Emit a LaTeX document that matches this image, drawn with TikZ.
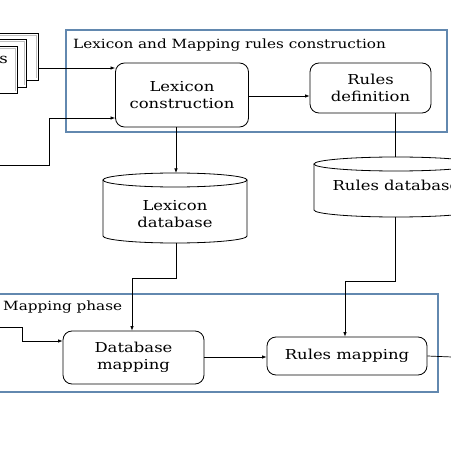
\documentclass[tikz,border=0pt]{standalone}
\usepackage{fontspec}
\setmainfont[FakeStretch=1.2]{DejaVu Serif}
\usetikzlibrary{arrows.meta}
\definecolor{frameblue}{RGB}{98,136,175}
\begin{document}
\begin{tikzpicture}[x=1pt,y=1pt,
  proc/.style={draw=black, line width=0.8pt, rounded corners=9pt, align=center,
     inner sep=0pt, font=\fontsize{13.7}{17}\selectfont},
  dbtext/.style={align=center, inner sep=0pt, font=\fontsize{13.7}{17}\selectfont},
  phase/.style={draw=frameblue, line width=1.8pt},
  ttl/.style={anchor=west, inner sep=0pt, font=\fontsize{12.7}{14}\selectfont},
  conn/.style={draw=black, line width=0.7pt},
  arr/.style={conn, -{Latex[length=4.5pt,width=3.5pt]}},
  doc/.style={draw=black, line width=0.8pt, fill=white}]
\useasboundingbox (0,0) rectangle (451,451);
\fill[white] (0,0) rectangle (451,451);

% phase frames
\draw[phase] (66,421) rectangle (447,319);
\node[ttl] (t1) at (73,406) {Lexicon and Mapping rules construction};
\draw[phase] (-5,157) rectangle (438,59);
\node[ttl] (t2) at (3,144) {Mapping phase};

% document stack
\draw[doc] (-20,418) rectangle (38,371);
\draw[doc] (-20,412) rectangle (26,364);
\draw[doc] (-20,405) rectangle (17,358);
\draw[gray!50, line width=0.6pt] (-20,416) -- (36,416) -- (36,373);
\draw[gray!50, line width=0.6pt] (-20,410) -- (24,410) -- (24,366);
\draw[gray!50, line width=0.6pt] (-20,403) -- (15,403) -- (15,360);
\node[dbtext, anchor=east] (docs) at (8,391) {s};
\coordinate (docout) at (38,383);

% processes
\node[proc, minimum width=133pt, minimum height=64pt] (lexcon) at (182,356) {Lexicon\\construction};
\node[proc, minimum width=121pt, minimum height=50pt] (rulesdef) at (370.5,363) {Rules\\definition};
\node[proc, minimum width=141pt, minimum height=53pt] (dbmap) at (133.5,93.5) {Database\\mapping};
\node[proc, minimum width=160pt, minimum height=38pt] (rulesmap) at (347,95) {Rules mapping};

% databases
\draw[line width=0.8pt] (175,271) ellipse [x radius=72, y radius=7];
\draw[line width=0.8pt] (103,271) -- (103,215) arc[start angle=180, end angle=360, x radius=72, y radius=7] -- (247,271);
\node[dbtext] (lexdb) at (175,237) {Lexicon\\database};
\coordinate (lexdbtop) at (176,278);
\coordinate (lexdbbot) at (176,208);

\draw[line width=0.8pt] (396,287) ellipse [x radius=82, y radius=7];
\draw[line width=0.8pt] (314,287) -- (314,241) arc[start angle=180, end angle=360, x radius=82, y radius=7] -- (478,287);
\node[dbtext] (rulesdb) at (396,266) {Rules database};
\coordinate (rulesdbtop) at (395,294);
\coordinate (rulesdbbot) at (395,234);

% free ends
\coordinate (in2) at (0,286);
\coordinate (in3) at (0,124);
\coordinate (outr) at (452,94);

% connectors
\draw[arr] (docout) -- (lexcon.west |- docout);
\draw[arr] (in2) -- (49,286) -- (49,333) -- (lexcon.west |- 0,333);
\draw[arr] (lexcon.east |- 0,355) -- (rulesdef.west |- 0,355);
\draw[arr] (lexdbtop |- lexcon.south) -- (lexdbtop);
\draw[conn] (rulesdbtop |- rulesdef.south) -- (rulesdbtop);
\draw[arr] (lexdbbot) -- (176,173) -- (132,173) -- (132,0 |- dbmap.north);
\draw[arr] (rulesdbbot) -- (395,170) -- (345,170) -- (345,0 |- rulesmap.north);
\draw[arr] (in3) -- (22,124) -- (22,110) -- (dbmap.west |- 0,110);
\draw[arr] (dbmap.east |- 0,94) -- (rulesmap.west |- 0,94);
\draw[conn] (rulesmap.east) -- (outr);
\end{tikzpicture}
\end{document}
